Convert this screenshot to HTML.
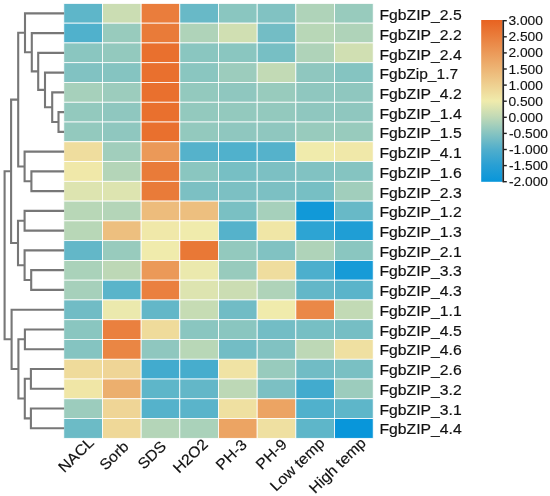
<!DOCTYPE html>
<html><head><meta charset="utf-8"><title>Heatmap</title>
<style>html,body{margin:0;padding:0;background:#fff}svg{display:block}</style></head>
<body>
<svg width="550" height="496" viewBox="0 0 550 496">
<defs><linearGradient id="cb" x1="0" y1="0" x2="0" y2="1"><stop offset="0" stop-color="#e86220"/><stop offset="0.5" stop-color="#f0ebac"/><stop offset="0.6" stop-color="#c0d9b6"/><stop offset="0.7" stop-color="#87c4c1"/><stop offset="0.8" stop-color="#50aecc"/><stop offset="0.9" stop-color="#289fd4"/><stop offset="1" stop-color="#0896da"/></linearGradient></defs>
<rect width="550" height="496" fill="#fff"/>
<g stroke="#fff" stroke-width="0.8">
<rect x="63.80" y="3.40" width="38.67" height="19.77" fill="#5eb6c9"/>
<rect x="102.47" y="3.40" width="38.67" height="19.77" fill="#cbddb3"/>
<rect x="141.15" y="3.40" width="38.67" height="19.77" fill="#ea7d3c"/>
<rect x="179.82" y="3.40" width="38.67" height="19.77" fill="#68b9c7"/>
<rect x="218.50" y="3.40" width="38.67" height="19.77" fill="#8ac6c0"/>
<rect x="257.18" y="3.40" width="38.67" height="19.77" fill="#81c2c2"/>
<rect x="295.85" y="3.40" width="38.67" height="19.77" fill="#afd3b9"/>
<rect x="334.52" y="3.40" width="38.67" height="19.77" fill="#98cbbd"/>
<rect x="63.80" y="23.17" width="38.67" height="19.77" fill="#50b1cc"/>
<rect x="102.47" y="23.17" width="38.67" height="19.77" fill="#98cbbd"/>
<rect x="141.15" y="23.17" width="38.67" height="19.77" fill="#e97b39"/>
<rect x="179.82" y="23.17" width="38.67" height="19.77" fill="#afd3b9"/>
<rect x="218.50" y="23.17" width="38.67" height="19.77" fill="#d0dfb2"/>
<rect x="257.18" y="23.17" width="38.67" height="19.77" fill="#73bdc5"/>
<rect x="295.85" y="23.17" width="38.67" height="19.77" fill="#b8d7b7"/>
<rect x="334.52" y="23.17" width="38.67" height="19.77" fill="#afd3b9"/>
<rect x="63.80" y="42.94" width="38.67" height="19.77" fill="#8ac6c0"/>
<rect x="102.47" y="42.94" width="38.67" height="19.77" fill="#93c9be"/>
<rect x="141.15" y="42.94" width="38.67" height="19.77" fill="#e9702e"/>
<rect x="179.82" y="42.94" width="38.67" height="19.77" fill="#8ac6c0"/>
<rect x="218.50" y="42.94" width="38.67" height="19.77" fill="#8ac6c0"/>
<rect x="257.18" y="42.94" width="38.67" height="19.77" fill="#77bfc4"/>
<rect x="295.85" y="42.94" width="38.67" height="19.77" fill="#afd3b9"/>
<rect x="334.52" y="42.94" width="38.67" height="19.77" fill="#d0dfb2"/>
<rect x="63.80" y="62.71" width="38.67" height="19.77" fill="#81c2c2"/>
<rect x="102.47" y="62.71" width="38.67" height="19.77" fill="#85c4c1"/>
<rect x="141.15" y="62.71" width="38.67" height="19.77" fill="#e9702e"/>
<rect x="179.82" y="62.71" width="38.67" height="19.77" fill="#8ac6c0"/>
<rect x="218.50" y="62.71" width="38.67" height="19.77" fill="#9cccbd"/>
<rect x="257.18" y="62.71" width="38.67" height="19.77" fill="#c2dab5"/>
<rect x="295.85" y="62.71" width="38.67" height="19.77" fill="#8fc7bf"/>
<rect x="334.52" y="62.71" width="38.67" height="19.77" fill="#85c4c1"/>
<rect x="63.80" y="82.48" width="38.67" height="19.77" fill="#a6d0bb"/>
<rect x="102.47" y="82.48" width="38.67" height="19.77" fill="#9cccbd"/>
<rect x="141.15" y="82.48" width="38.67" height="19.77" fill="#e9702e"/>
<rect x="179.82" y="82.48" width="38.67" height="19.77" fill="#93c9be"/>
<rect x="218.50" y="82.48" width="38.67" height="19.77" fill="#8fc7bf"/>
<rect x="257.18" y="82.48" width="38.67" height="19.77" fill="#98cbbd"/>
<rect x="295.85" y="82.48" width="38.67" height="19.77" fill="#8fc7bf"/>
<rect x="334.52" y="82.48" width="38.67" height="19.77" fill="#8fc7bf"/>
<rect x="63.80" y="102.25" width="38.67" height="19.77" fill="#93c9be"/>
<rect x="102.47" y="102.25" width="38.67" height="19.77" fill="#8fc7bf"/>
<rect x="141.15" y="102.25" width="38.67" height="19.77" fill="#e9702e"/>
<rect x="179.82" y="102.25" width="38.67" height="19.77" fill="#93c9be"/>
<rect x="218.50" y="102.25" width="38.67" height="19.77" fill="#93c9be"/>
<rect x="257.18" y="102.25" width="38.67" height="19.77" fill="#93c9be"/>
<rect x="295.85" y="102.25" width="38.67" height="19.77" fill="#8fc7bf"/>
<rect x="334.52" y="102.25" width="38.67" height="19.77" fill="#8fc7bf"/>
<rect x="63.80" y="122.02" width="38.67" height="19.77" fill="#93c9be"/>
<rect x="102.47" y="122.02" width="38.67" height="19.77" fill="#8fc7bf"/>
<rect x="141.15" y="122.02" width="38.67" height="19.77" fill="#e9702e"/>
<rect x="179.82" y="122.02" width="38.67" height="19.77" fill="#93c9be"/>
<rect x="218.50" y="122.02" width="38.67" height="19.77" fill="#8fc7bf"/>
<rect x="257.18" y="122.02" width="38.67" height="19.77" fill="#8fc7bf"/>
<rect x="295.85" y="122.02" width="38.67" height="19.77" fill="#98cbbd"/>
<rect x="334.52" y="122.02" width="38.67" height="19.77" fill="#98cbbd"/>
<rect x="63.80" y="141.79" width="38.67" height="19.77" fill="#efdd9e"/>
<rect x="102.47" y="141.79" width="38.67" height="19.77" fill="#a1cebc"/>
<rect x="141.15" y="141.79" width="38.67" height="19.77" fill="#eb9958"/>
<rect x="179.82" y="141.79" width="38.67" height="19.77" fill="#55b2cb"/>
<rect x="218.50" y="141.79" width="38.67" height="19.77" fill="#50b1cc"/>
<rect x="257.18" y="141.79" width="38.67" height="19.77" fill="#55b2cb"/>
<rect x="295.85" y="141.79" width="38.67" height="19.77" fill="#f0ebac"/>
<rect x="334.52" y="141.79" width="38.67" height="19.77" fill="#f0e8a9"/>
<rect x="63.80" y="161.56" width="38.67" height="19.77" fill="#f0e8a9"/>
<rect x="102.47" y="161.56" width="38.67" height="19.77" fill="#b4d5b8"/>
<rect x="141.15" y="161.56" width="38.67" height="19.77" fill="#e97b39"/>
<rect x="179.82" y="161.56" width="38.67" height="19.77" fill="#8ac6c0"/>
<rect x="218.50" y="161.56" width="38.67" height="19.77" fill="#77bfc4"/>
<rect x="257.18" y="161.56" width="38.67" height="19.77" fill="#7cc0c3"/>
<rect x="295.85" y="161.56" width="38.67" height="19.77" fill="#81c2c2"/>
<rect x="334.52" y="161.56" width="38.67" height="19.77" fill="#85c4c1"/>
<rect x="63.80" y="181.33" width="38.67" height="19.77" fill="#dde4b0"/>
<rect x="102.47" y="181.33" width="38.67" height="19.77" fill="#dde4b0"/>
<rect x="141.15" y="181.33" width="38.67" height="19.77" fill="#e97b39"/>
<rect x="179.82" y="181.33" width="38.67" height="19.77" fill="#7cc0c3"/>
<rect x="218.50" y="181.33" width="38.67" height="19.77" fill="#7cc0c3"/>
<rect x="257.18" y="181.33" width="38.67" height="19.77" fill="#7cc0c3"/>
<rect x="295.85" y="181.33" width="38.67" height="19.77" fill="#77bfc4"/>
<rect x="334.52" y="181.33" width="38.67" height="19.77" fill="#a1cebc"/>
<rect x="63.80" y="201.10" width="38.67" height="19.77" fill="#b8d7b7"/>
<rect x="102.47" y="201.10" width="38.67" height="19.77" fill="#b4d5b8"/>
<rect x="141.15" y="201.10" width="38.67" height="19.77" fill="#edbc7c"/>
<rect x="179.82" y="201.10" width="38.67" height="19.77" fill="#edbf7f"/>
<rect x="218.50" y="201.10" width="38.67" height="19.77" fill="#7ac0c3"/>
<rect x="257.18" y="201.10" width="38.67" height="19.77" fill="#a6d0bb"/>
<rect x="295.85" y="201.10" width="38.67" height="19.77" fill="#1199d8"/>
<rect x="334.52" y="201.10" width="38.67" height="19.77" fill="#68b9c7"/>
<rect x="63.80" y="220.87" width="38.67" height="19.77" fill="#b8d7b7"/>
<rect x="102.47" y="220.87" width="38.67" height="19.77" fill="#edbf7f"/>
<rect x="141.15" y="220.87" width="38.67" height="19.77" fill="#f0e8a9"/>
<rect x="179.82" y="220.87" width="38.67" height="19.77" fill="#f0ebac"/>
<rect x="218.50" y="220.87" width="38.67" height="19.77" fill="#55b2cb"/>
<rect x="257.18" y="220.87" width="38.67" height="19.77" fill="#f0e6a6"/>
<rect x="295.85" y="220.87" width="38.67" height="19.77" fill="#2da4d3"/>
<rect x="334.52" y="220.87" width="38.67" height="19.77" fill="#1f9ed5"/>
<rect x="63.80" y="240.64" width="38.67" height="19.77" fill="#63b7c8"/>
<rect x="102.47" y="240.64" width="38.67" height="19.77" fill="#98cbbd"/>
<rect x="141.15" y="240.64" width="38.67" height="19.77" fill="#f0ebac"/>
<rect x="179.82" y="240.64" width="38.67" height="19.77" fill="#e97836"/>
<rect x="218.50" y="240.64" width="38.67" height="19.77" fill="#93c9be"/>
<rect x="257.18" y="240.64" width="38.67" height="19.77" fill="#81c2c2"/>
<rect x="295.85" y="240.64" width="38.67" height="19.77" fill="#afd3b9"/>
<rect x="334.52" y="240.64" width="38.67" height="19.77" fill="#8ac6c0"/>
<rect x="63.80" y="260.41" width="38.67" height="19.77" fill="#aad2ba"/>
<rect x="102.47" y="260.41" width="38.67" height="19.77" fill="#bdd8b6"/>
<rect x="141.15" y="260.41" width="38.67" height="19.77" fill="#eb9958"/>
<rect x="179.82" y="260.41" width="38.67" height="19.77" fill="#ebe9ad"/>
<rect x="218.50" y="260.41" width="38.67" height="19.77" fill="#98cbbd"/>
<rect x="257.18" y="260.41" width="38.67" height="19.77" fill="#efdd9e"/>
<rect x="295.85" y="260.41" width="38.67" height="19.77" fill="#4cafcd"/>
<rect x="334.52" y="260.41" width="38.67" height="19.77" fill="#169bd7"/>
<rect x="63.80" y="280.18" width="38.67" height="19.77" fill="#a6d0bb"/>
<rect x="102.47" y="280.18" width="38.67" height="19.77" fill="#5ab4ca"/>
<rect x="141.15" y="280.18" width="38.67" height="19.77" fill="#ea803f"/>
<rect x="179.82" y="280.18" width="38.67" height="19.77" fill="#dde4b0"/>
<rect x="218.50" y="280.18" width="38.67" height="19.77" fill="#cbddb3"/>
<rect x="257.18" y="280.18" width="38.67" height="19.77" fill="#afd3b9"/>
<rect x="295.85" y="280.18" width="38.67" height="19.77" fill="#63b7c8"/>
<rect x="334.52" y="280.18" width="38.67" height="19.77" fill="#5ab4ca"/>
<rect x="63.80" y="299.95" width="38.67" height="19.77" fill="#71bcc5"/>
<rect x="102.47" y="299.95" width="38.67" height="19.77" fill="#ebe9ad"/>
<rect x="141.15" y="299.95" width="38.67" height="19.77" fill="#63b7c8"/>
<rect x="179.82" y="299.95" width="38.67" height="19.77" fill="#c6dcb4"/>
<rect x="218.50" y="299.95" width="38.67" height="19.77" fill="#71bcc5"/>
<rect x="257.18" y="299.95" width="38.67" height="19.77" fill="#f0ebac"/>
<rect x="295.85" y="299.95" width="38.67" height="19.77" fill="#ea8847"/>
<rect x="334.52" y="299.95" width="38.67" height="19.77" fill="#c2dab5"/>
<rect x="63.80" y="319.72" width="38.67" height="19.77" fill="#8ac6c0"/>
<rect x="102.47" y="319.72" width="38.67" height="19.77" fill="#ea803f"/>
<rect x="141.15" y="319.72" width="38.67" height="19.77" fill="#efdb9b"/>
<rect x="179.82" y="319.72" width="38.67" height="19.77" fill="#8ac6c0"/>
<rect x="218.50" y="319.72" width="38.67" height="19.77" fill="#8ac6c0"/>
<rect x="257.18" y="319.72" width="38.67" height="19.77" fill="#73bdc5"/>
<rect x="295.85" y="319.72" width="38.67" height="19.77" fill="#77bfc4"/>
<rect x="334.52" y="319.72" width="38.67" height="19.77" fill="#76bec4"/>
<rect x="63.80" y="339.49" width="38.67" height="19.77" fill="#85c4c1"/>
<rect x="102.47" y="339.49" width="38.67" height="19.77" fill="#ea8644"/>
<rect x="141.15" y="339.49" width="38.67" height="19.77" fill="#8fc7bf"/>
<rect x="179.82" y="339.49" width="38.67" height="19.77" fill="#b8d7b7"/>
<rect x="218.50" y="339.49" width="38.67" height="19.77" fill="#73bdc5"/>
<rect x="257.18" y="339.49" width="38.67" height="19.77" fill="#81c2c2"/>
<rect x="295.85" y="339.49" width="38.67" height="19.77" fill="#bdd8b6"/>
<rect x="334.52" y="339.49" width="38.67" height="19.77" fill="#efe0a1"/>
<rect x="63.80" y="359.26" width="38.67" height="19.77" fill="#efdb9b"/>
<rect x="102.47" y="359.26" width="38.67" height="19.77" fill="#efd596"/>
<rect x="141.15" y="359.26" width="38.67" height="19.77" fill="#42abce"/>
<rect x="179.82" y="359.26" width="38.67" height="19.77" fill="#47adcd"/>
<rect x="218.50" y="359.26" width="38.67" height="19.77" fill="#f0e3a4"/>
<rect x="257.18" y="359.26" width="38.67" height="19.77" fill="#98cbbd"/>
<rect x="295.85" y="359.26" width="38.67" height="19.77" fill="#71bcc5"/>
<rect x="334.52" y="359.26" width="38.67" height="19.77" fill="#7ac0c3"/>
<rect x="63.80" y="379.03" width="38.67" height="19.77" fill="#f0e6a6"/>
<rect x="102.47" y="379.03" width="38.67" height="19.77" fill="#ecaf6e"/>
<rect x="141.15" y="379.03" width="38.67" height="19.77" fill="#5eb6c9"/>
<rect x="179.82" y="379.03" width="38.67" height="19.77" fill="#63b7c8"/>
<rect x="218.50" y="379.03" width="38.67" height="19.77" fill="#bdd8b6"/>
<rect x="257.18" y="379.03" width="38.67" height="19.77" fill="#7cc0c3"/>
<rect x="295.85" y="379.03" width="38.67" height="19.77" fill="#42abce"/>
<rect x="334.52" y="379.03" width="38.67" height="19.77" fill="#9cccbd"/>
<rect x="63.80" y="398.80" width="38.67" height="19.77" fill="#9cccbd"/>
<rect x="102.47" y="398.80" width="38.67" height="19.77" fill="#efd596"/>
<rect x="141.15" y="398.80" width="38.67" height="19.77" fill="#55b2cb"/>
<rect x="179.82" y="398.80" width="38.67" height="19.77" fill="#5ab4ca"/>
<rect x="218.50" y="398.80" width="38.67" height="19.77" fill="#efe0a1"/>
<rect x="257.18" y="398.80" width="38.67" height="19.77" fill="#eca463"/>
<rect x="295.85" y="398.80" width="38.67" height="19.77" fill="#50b1cc"/>
<rect x="334.52" y="398.80" width="38.67" height="19.77" fill="#5eb6c9"/>
<rect x="63.80" y="418.57" width="38.67" height="19.77" fill="#6cbbc6"/>
<rect x="102.47" y="418.57" width="38.67" height="19.77" fill="#efd898"/>
<rect x="141.15" y="418.57" width="38.67" height="19.77" fill="#b4d5b8"/>
<rect x="179.82" y="418.57" width="38.67" height="19.77" fill="#aad2ba"/>
<rect x="218.50" y="418.57" width="38.67" height="19.77" fill="#eca463"/>
<rect x="257.18" y="418.57" width="38.67" height="19.77" fill="#efe0a1"/>
<rect x="295.85" y="418.57" width="38.67" height="19.77" fill="#5eb6c9"/>
<rect x="334.52" y="418.57" width="38.67" height="19.77" fill="#0896da"/>
</g>
<g stroke="#777" stroke-width="2.1" stroke-linejoin="miter" stroke-linecap="butt" fill="none">
<path d="M64.10 112.12H58.50V131.88H64.10"/>
<path d="M64.10 92.37H52.20V122.00H58.50"/>
<path d="M64.10 72.61H45.00V107.19H52.20"/>
<path d="M64.10 52.86H38.20V89.90H45.00"/>
<path d="M64.10 33.10H31.80V71.38H38.20"/>
<path d="M64.10 13.35H25.00V52.24H31.80"/>
<path d="M64.10 171.39H31.40V191.14H64.10"/>
<path d="M64.10 151.63H24.60V181.27H31.40"/>
<path d="M25.00 32.80H18.20V166.45H24.60"/>
<path d="M64.10 210.90H24.60V230.65H64.10"/>
<path d="M64.10 270.17H31.20V289.92H64.10"/>
<path d="M64.10 250.41H24.60V280.04H31.20"/>
<path d="M24.60 220.78H18.00V265.23H24.60"/>
<path d="M18.20 99.62H11.10V243.00H18.00"/>
<path d="M64.10 329.43H24.90V349.19H64.10"/>
<path d="M64.10 368.94H30.90V388.69H64.10"/>
<path d="M64.10 408.45H30.90V428.20H64.10"/>
<path d="M30.90 378.82H24.80V418.33H30.90"/>
<path d="M24.90 339.31H18.40V398.57H24.80"/>
<path d="M64.10 309.68H11.60V368.94H18.40"/>
<path d="M11.10 171.31H4.60V339.31H11.60"/>
</g>
<g font-family="'Liberation Sans', Arial, sans-serif" font-size="15" fill="#111" stroke="#111" stroke-width="0.18">
<text x="379.5" y="20.10" textLength="82.2" lengthAdjust="spacingAndGlyphs">FgbZIP_2.5</text>
<text x="379.5" y="39.82" textLength="82.2" lengthAdjust="spacingAndGlyphs">FgbZIP_2.2</text>
<text x="379.5" y="59.54" textLength="82.2" lengthAdjust="spacingAndGlyphs">FgbZIP_2.4</text>
<text x="379.5" y="79.26" textLength="78.6" lengthAdjust="spacingAndGlyphs">FgbZip_1.7</text>
<text x="379.5" y="98.98" textLength="82.2" lengthAdjust="spacingAndGlyphs">FgbZIP_4.2</text>
<text x="379.5" y="118.70" textLength="82.2" lengthAdjust="spacingAndGlyphs">FgbZIP_1.4</text>
<text x="379.5" y="138.42" textLength="82.2" lengthAdjust="spacingAndGlyphs">FgbZIP_1.5</text>
<text x="379.5" y="158.14" textLength="82.2" lengthAdjust="spacingAndGlyphs">FgbZIP_4.1</text>
<text x="379.5" y="177.86" textLength="82.2" lengthAdjust="spacingAndGlyphs">FgbZIP_1.6</text>
<text x="379.5" y="197.58" textLength="82.2" lengthAdjust="spacingAndGlyphs">FgbZIP_2.3</text>
<text x="379.5" y="217.30" textLength="82.2" lengthAdjust="spacingAndGlyphs">FgbZIP_1.2</text>
<text x="379.5" y="237.02" textLength="82.2" lengthAdjust="spacingAndGlyphs">FgbZIP_1.3</text>
<text x="379.5" y="256.74" textLength="82.2" lengthAdjust="spacingAndGlyphs">FgbZIP_2.1</text>
<text x="379.5" y="276.46" textLength="82.2" lengthAdjust="spacingAndGlyphs">FgbZIP_3.3</text>
<text x="379.5" y="296.18" textLength="82.2" lengthAdjust="spacingAndGlyphs">FgbZIP_4.3</text>
<text x="379.5" y="315.90" textLength="82.2" lengthAdjust="spacingAndGlyphs">FgbZIP_1.1</text>
<text x="379.5" y="335.62" textLength="82.2" lengthAdjust="spacingAndGlyphs">FgbZIP_4.5</text>
<text x="379.5" y="355.34" textLength="82.2" lengthAdjust="spacingAndGlyphs">FgbZIP_4.6</text>
<text x="379.5" y="375.06" textLength="82.2" lengthAdjust="spacingAndGlyphs">FgbZIP_2.6</text>
<text x="379.5" y="394.78" textLength="82.2" lengthAdjust="spacingAndGlyphs">FgbZIP_3.2</text>
<text x="379.5" y="414.50" textLength="82.2" lengthAdjust="spacingAndGlyphs">FgbZIP_3.1</text>
<text x="379.5" y="434.22" textLength="82.2" lengthAdjust="spacingAndGlyphs">FgbZIP_4.4</text>
</g>
<g font-family="'Liberation Sans', Arial, sans-serif" font-size="15" fill="#111" stroke="#111" stroke-width="0.18" text-anchor="end">
<text transform="translate(94.84,443.70) rotate(-44) scale(1.06,1)">NACL</text>
<text transform="translate(129.61,447.70) rotate(-44) scale(1.06,1)">Sorb</text>
<text transform="translate(167.19,447.40) rotate(-44) scale(1.06,1)">SDS</text>
<text transform="translate(208.86,445.30) rotate(-44) scale(1.06,1)">H2O2</text>
<text transform="translate(247.84,445.80) rotate(-44) scale(1.06,1)">PH-3</text>
<text transform="translate(287.81,445.30) rotate(-44) scale(1.06,1)">PH-9</text>
<text transform="translate(325.59,444.20) rotate(-44) scale(1.06,1)">Low temp</text>
<text transform="translate(366.96,444.00) rotate(-44) scale(1.06,1)">High temp</text>
</g>
<rect x="481.2" y="20.0" width="21.2" height="161.8" fill="url(#cb)"/>
<g stroke="#222" stroke-width="1.4"><line x1="503.2" y1="20.0" x2="503.2" y2="182.3" stroke-width="1.7"/>
<line x1="503.2" y1="20.70" x2="506.8" y2="20.70"/>
<line x1="503.2" y1="36.80" x2="506.8" y2="36.80"/>
<line x1="503.2" y1="52.90" x2="506.8" y2="52.90"/>
<line x1="503.2" y1="69.00" x2="506.8" y2="69.00"/>
<line x1="503.2" y1="85.10" x2="506.8" y2="85.10"/>
<line x1="503.2" y1="101.20" x2="506.8" y2="101.20"/>
<line x1="503.2" y1="117.30" x2="506.8" y2="117.30"/>
<line x1="503.2" y1="133.40" x2="506.8" y2="133.40"/>
<line x1="503.2" y1="149.50" x2="506.8" y2="149.50"/>
<line x1="503.2" y1="165.60" x2="506.8" y2="165.60"/>
<line x1="503.2" y1="181.70" x2="506.8" y2="181.70"/>
</g>
<g font-family="'Liberation Sans', Arial, sans-serif" font-size="13.4" fill="#111" stroke="#111" stroke-width="0.12">
<text x="508.4" y="25.20" textLength="34.53" lengthAdjust="spacingAndGlyphs">3.000</text>
<text x="508.4" y="41.30" textLength="34.53" lengthAdjust="spacingAndGlyphs">2.500</text>
<text x="508.4" y="57.40" textLength="34.53" lengthAdjust="spacingAndGlyphs">2.000</text>
<text x="508.4" y="73.50" textLength="34.53" lengthAdjust="spacingAndGlyphs">1.500</text>
<text x="508.4" y="89.60" textLength="34.53" lengthAdjust="spacingAndGlyphs">1.000</text>
<text x="508.4" y="105.70" textLength="34.53" lengthAdjust="spacingAndGlyphs">0.500</text>
<text x="508.4" y="121.80" textLength="34.53" lengthAdjust="spacingAndGlyphs">0.000</text>
<text x="508.9" y="137.90" textLength="39.13" lengthAdjust="spacingAndGlyphs">-0.500</text>
<text x="508.9" y="154.00" textLength="39.13" lengthAdjust="spacingAndGlyphs">-1.000</text>
<text x="508.9" y="170.10" textLength="39.13" lengthAdjust="spacingAndGlyphs">-1.500</text>
<text x="508.9" y="186.20" textLength="39.13" lengthAdjust="spacingAndGlyphs">-2.000</text>
</g>
</svg>
</body></html>
